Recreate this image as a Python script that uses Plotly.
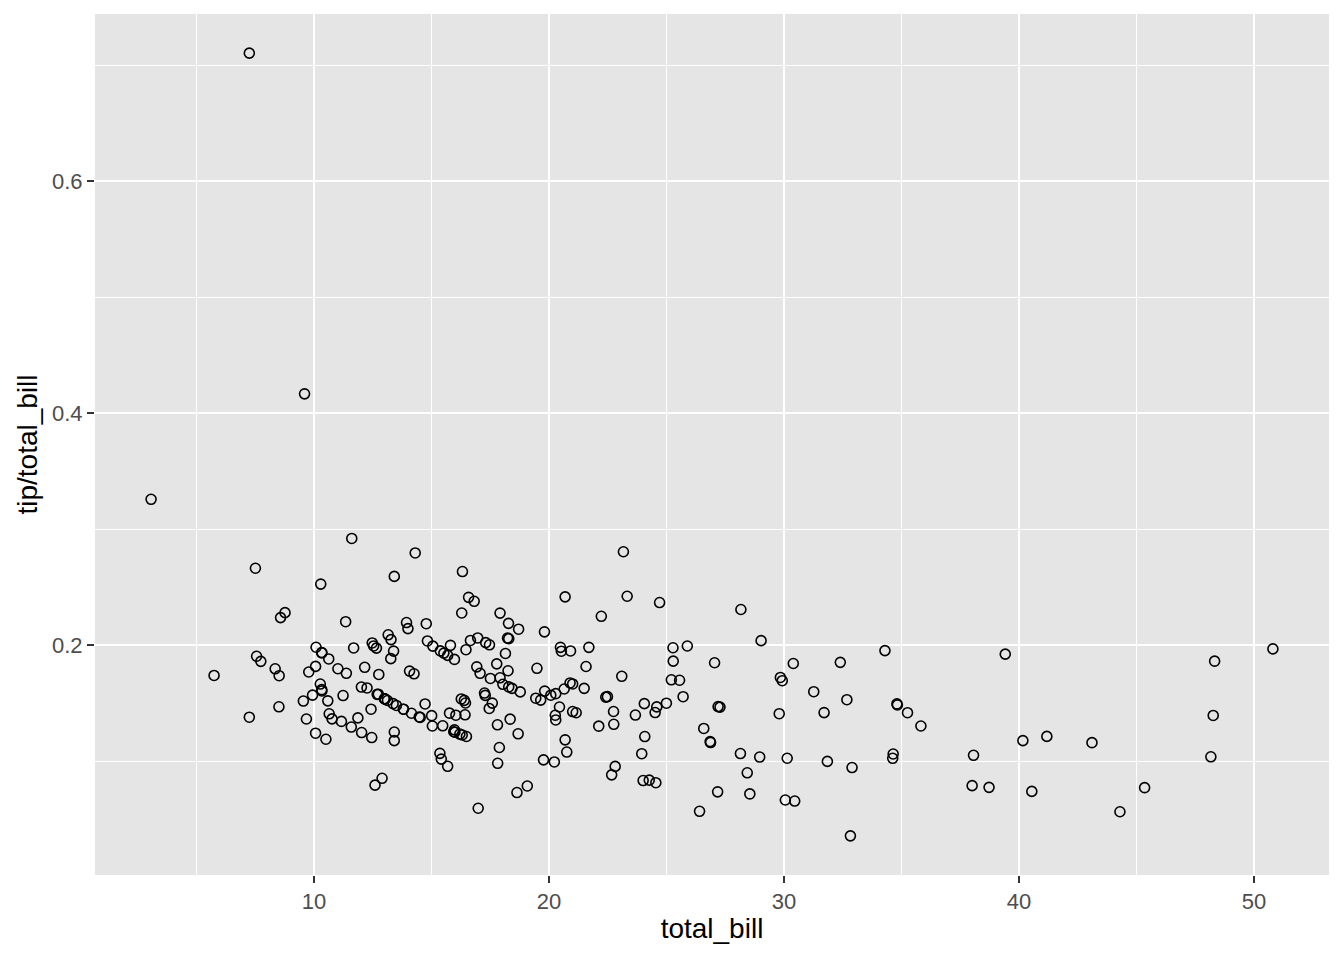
import plotly.graph_objects as go

# tips data: bill and tip per table
total_bill = [
    16.99, 10.34, 21.01, 23.68, 24.59, 25.29, 8.77, 26.88, 15.04, 14.78,
    10.27, 35.26, 15.42, 18.43, 14.83, 21.58, 10.33, 16.29, 16.97, 20.65,
    17.92, 20.29, 15.77, 39.42, 19.82, 17.81, 13.37, 12.69, 21.70, 19.65,
    9.55, 18.35, 15.06, 20.69, 17.78, 24.06, 16.31, 16.93, 18.69, 31.27,
    16.04, 17.46, 13.94, 9.68, 30.40, 18.29, 22.23, 32.40, 28.55, 18.04,
    12.54, 10.29, 34.81, 9.94, 25.56, 19.49, 38.01, 26.41, 11.24, 48.27,
    20.29, 13.81, 11.02, 18.29, 17.59, 20.08, 16.45, 3.07, 20.23, 15.01,
    12.02, 17.07, 26.86, 25.28, 14.73, 10.51, 17.92, 27.20, 22.76, 17.29,
    19.44, 16.66, 10.07, 32.68, 15.98, 34.83, 13.03, 18.28, 24.71, 21.16,
    28.97, 22.49, 5.75, 16.32, 22.75, 40.17, 27.28, 12.03, 21.01, 12.46,
    11.35, 15.38, 44.30, 22.42, 20.92, 15.36, 20.49, 25.21, 18.24, 14.31,
    14.00, 7.25, 38.07, 23.95, 25.71, 17.31, 29.93, 10.65, 12.43, 24.08,
    11.69, 13.42, 14.26, 15.95, 12.48, 29.80, 8.52, 14.52, 11.38, 22.82,
    19.08, 20.27, 11.17, 12.26, 18.26, 8.51, 10.33, 14.15, 16.00, 13.16,
    17.47, 34.30, 41.19, 27.05, 16.43, 8.35, 18.64, 11.87, 9.78, 7.51,
    14.07, 13.13, 17.26, 24.55, 19.77, 29.85, 48.17, 25.00, 13.39, 16.49,
    21.50, 12.66, 16.21, 13.81, 17.51, 24.52, 20.76, 31.71, 10.59, 10.63,
    50.81, 15.81, 7.25, 31.85, 16.82, 32.90, 17.89, 14.48, 9.60, 34.63,
    34.65, 23.33, 45.35, 23.17, 40.55, 20.69, 20.90, 30.46, 18.15, 23.10,
    15.69, 19.81, 28.44, 15.48, 16.58, 7.56, 10.34, 43.11, 13.00, 13.51,
    18.71, 12.74, 13.00, 16.40, 20.53, 16.47, 26.59, 38.73, 24.27, 12.76,
    30.06, 25.89, 48.33, 13.27, 28.17, 12.90, 28.15, 11.59, 7.74, 30.14,
    12.16, 13.42, 8.58, 15.98, 13.42, 16.27, 10.09, 20.45, 13.28, 22.12,
    24.01, 15.69, 11.61, 10.77, 15.53, 10.07, 12.60, 32.83, 35.83, 29.03,
    27.18, 22.67, 17.82, 18.78,
]
tip = [
    1.01, 1.66, 3.50, 3.31, 3.61, 4.71, 2.00, 3.12, 1.96, 3.23,
    1.71, 5.00, 1.57, 3.00, 3.02, 3.92, 1.67, 3.71, 3.50, 3.35,
    4.08, 2.75, 2.23, 7.58, 3.18, 2.34, 2.00, 2.00, 4.30, 3.00,
    1.45, 2.50, 3.00, 2.45, 3.27, 3.60, 2.00, 3.07, 2.31, 5.00,
    2.24, 2.54, 3.06, 1.32, 5.60, 3.00, 5.00, 6.00, 2.05, 3.00,
    2.50, 2.60, 5.20, 1.56, 4.34, 3.51, 3.00, 1.50, 1.76, 6.73,
    3.21, 2.00, 1.98, 3.76, 2.64, 3.15, 2.47, 1.00, 2.01, 2.09,
    1.97, 3.00, 3.14, 5.00, 2.20, 1.25, 3.08, 4.00, 3.00, 2.71,
    3.00, 3.40, 1.83, 5.00, 2.03, 5.17, 2.00, 4.00, 5.85, 3.00,
    3.00, 3.50, 1.00, 4.30, 3.25, 4.73, 4.00, 1.50, 3.00, 1.50,
    2.50, 3.00, 2.50, 3.48, 4.08, 1.64, 4.06, 4.29, 3.76, 4.00,
    3.00, 1.00, 4.00, 2.55, 4.00, 3.50, 5.07, 1.50, 1.80, 2.92,
    2.31, 1.68, 2.50, 2.00, 2.52, 4.20, 1.48, 2.00, 2.00, 2.18,
    1.50, 2.83, 1.50, 2.00, 3.25, 1.25, 2.00, 2.00, 2.00, 2.75,
    3.50, 6.70, 5.00, 5.00, 2.30, 1.50, 1.36, 1.63, 1.73, 2.00,
    2.50, 2.00, 2.74, 2.00, 2.00, 5.14, 5.00, 3.75, 2.61, 2.00,
    3.50, 2.50, 2.00, 2.00, 3.00, 3.48, 2.24, 4.50, 1.61, 2.00,
    10.00, 3.16, 5.15, 3.18, 4.00, 3.11, 2.00, 2.00, 4.00, 3.55,
    3.68, 5.65, 3.50, 6.50, 3.00, 5.00, 3.50, 2.00, 3.50, 4.00,
    1.50, 4.19, 2.56, 2.02, 4.00, 1.44, 2.00, 5.00, 2.00, 2.00,
    4.00, 2.01, 2.00, 2.50, 4.00, 3.23, 3.41, 3.00, 2.03, 2.23,
    2.00, 5.16, 9.00, 2.50, 6.50, 1.10, 3.00, 1.50, 1.44, 3.09,
    2.20, 3.48, 1.92, 3.00, 1.58, 2.50, 2.00, 3.00, 2.72, 2.88,
    2.00, 3.00, 3.39, 1.47, 3.00, 1.25, 1.00, 1.17, 4.67, 5.92,
    2.00, 2.00, 1.75, 3.00,
]
x_ticks = [10, 20, 30, 40, 50]
x_minor = [5, 15, 25, 35, 45]
y_ticks = [0.2, 0.4, 0.6]
y_minor = [0.1, 0.3, 0.5, 0.7]

ratio = [t / b for t, b in zip(tip, total_bill)]

fig = go.Figure()
fig.add_trace(go.Scatter(
    x=total_bill, y=ratio, mode="markers",
    marker=dict(symbol="circle-open", size=10, color="black", line=dict(width=1.6, color="black")),
    showlegend=False,
))


# ggplot-style 5% expansion
def expand(vals):
    lo, hi = min(vals), max(vals)
    pad = (hi - lo) * 0.05
    return [lo - pad, hi + pad]


FONT = "Liberation Sans, Arial, sans-serif"
tick_font = dict(family=FONT, size=22, color="#4D4D4D")
title_font = dict(family=FONT, size=28, color="black")

fig.update_xaxes(
    range=expand(total_bill), tickmode="array", tickvals=x_ticks,
    tickfont=tick_font, title=dict(text="total_bill", font=title_font, standoff=4),
    showgrid=True, gridcolor="white", gridwidth=2, zeroline=False, showline=False,
    ticks="outside", ticklen=7, tickwidth=2, tickcolor="#333333",
    minor=dict(tickvals=x_minor, showgrid=True, gridcolor="white", gridwidth=1, ticks=""),
)
fig.update_yaxes(
    range=expand(ratio), tickmode="array", tickvals=y_ticks, ticktext=["0.2", "0.4", "0.6"],
    tickfont=tick_font, title=dict(text="tip/total_bill", font=title_font, standoff=6),
    showgrid=True, gridcolor="white", gridwidth=2, zeroline=False, showline=False,
    ticks="outside", ticklen=7, tickwidth=2, tickcolor="#333333",
    minor=dict(tickvals=y_minor, showgrid=True, gridcolor="white", gridwidth=1, ticks=""),
)

# page body has an 8px margin, so size the figure to land the panel where the reference has it
fig.update_layout(
    width=1336, height=952,
    plot_bgcolor="#E5E5E5", paper_bgcolor="white",
    margin=dict(l=87, r=15, t=6, b=85, autoexpand=False),
)

fig.write_html("out.html")
